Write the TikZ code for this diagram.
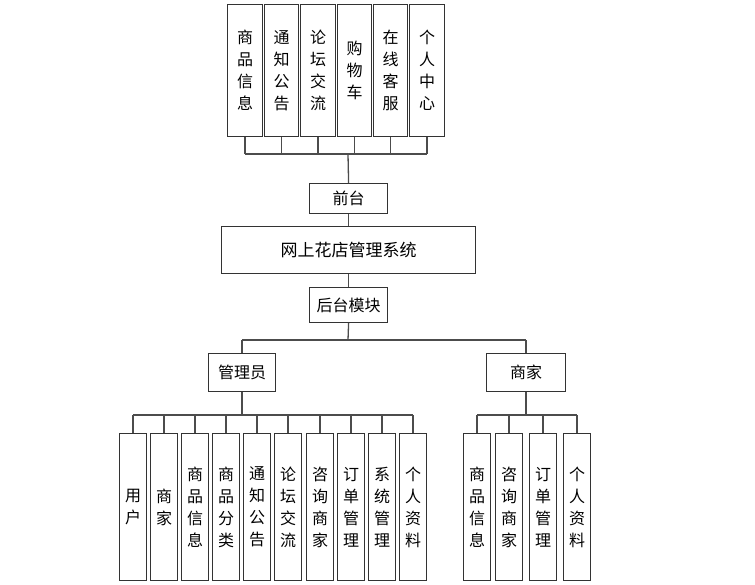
\documentclass[tikz,border=0pt]{standalone}
\usepackage{fontspec}
\newfontfamily\cjk{Noto Sans CJK SC}
\begin{document}
\begin{tikzpicture}[x=1pt,y=-1pt,
  bx/.style={draw=black!80,line width=1.2pt,fill=white,font=\cjk\fontsize{16}{22}\selectfont,align=center,inner sep=0pt},
  ln/.style={draw=black!70,line width=1.3pt}]
\useasboundingbox (0,0) rectangle (755,584);
\newcommand{\mybox}[6]{\node[bx,minimum width=#3-#2,minimum height=#5-#4,anchor=north west] (#1) at (#2,#4) {#6};}
% top
\mybox{t1}{227}{262}{4}{136}{商\\品\\信\\息}
\mybox{t2}{264}{298}{4}{136}{通\\知\\公\\告}
\mybox{t3}{300}{335}{4}{136}{论\\坛\\交\\流}
\mybox{t4}{337}{371}{4}{136}{购\\物\\车}
\mybox{t5}{373}{407}{4}{136}{在\\线\\客\\服}
\mybox{t6}{409}{444}{4}{136}{个\\人\\中\\心}
\mybox{qt}{309}{387}{183}{213}{前台}
\node[bx,font=\cjk\fontsize{17}{22}\selectfont,minimum width=254,minimum height=47,anchor=north west] (main) at (221,226) {网上花店管理系统};
\mybox{ht}{309}{387}{287}{322}{后台模块}
\mybox{gly}{208}{275}{353}{391}{管理员}
\mybox{sj}{486}{565}{353}{391}{商家}
\coordinate (tb) at (348,154);
\foreach \n in {t1,t2,t3,t4,t5,t6}{\draw[ln] (\n.south) -- (\n.south |- tb);}
\draw[ln] (t1.south |- tb) -- (t6.south |- tb);
\draw[ln] (tb) -- (qt.north);
\draw[ln] (qt.south) -- (qt.south |- main.north);
\draw[ln] (main.south -| ht.north) -- (ht.north);
\coordinate (hb) at (348,340);
\draw[ln] (ht.south) -- (hb);
\draw[ln] (gly.north |- hb) -- (sj.north |- hb);
\draw[ln] (gly.north |- hb) -- (gly.north);
\draw[ln] (sj.north |- hb) -- (sj.north);
% admin children
\foreach \i/\x/\t in {1/119/{用\\户},2/150/{商\\家},3/181/{商\\品\\信\\息},4/212/{商\\品\\分\\类},5/243/{通\\知\\公\\告},6/274/{论\\坛\\交\\流},7/306/{咨\\询\\商\\家},8/337/{订\\单\\管\\理},9/368/{系\\统\\管\\理},10/399/{个\\人\\资\\料}}{
  \node[bx,minimum width=27,minimum height=147,anchor=north west] (a\i) at (\x,433) {\t};
  \draw[ln] (a\i.north) -- ++(0,-18);
}
\draw[ln] (a1.north) ++(0,-18) coordinate (al) -- (a10.north |- al);
\draw[ln] (gly.south) -- (gly.south |- al);
\foreach \i/\x/\t in {1/463/{商\\品\\信\\息},2/495/{咨\\询\\商\\家},3/529/{订\\单\\管\\理},4/563/{个\\人\\资\\料}}{
  \node[bx,minimum width=27,minimum height=147,anchor=north west] (s\i) at (\x,433) {\t};
  \draw[ln] (s\i.north) -- ++(0,-18);
}
\draw[ln] (s1.north) ++(0,-18) coordinate (sl) -- (s4.north |- sl);
\draw[ln] (sj.south) -- (sj.south |- sl);
\end{tikzpicture}
\end{document}
